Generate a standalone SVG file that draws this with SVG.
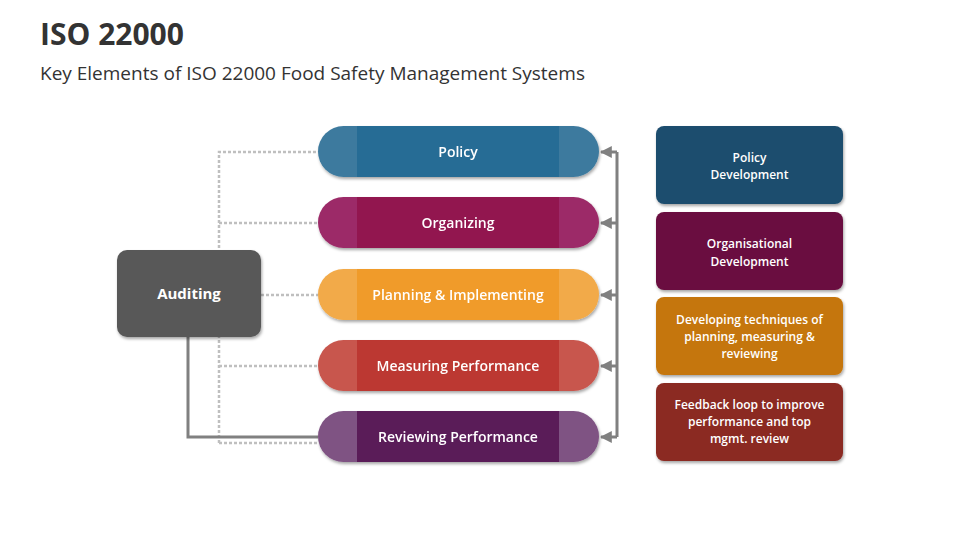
<svg xmlns="http://www.w3.org/2000/svg" width="960" height="540" viewBox="0 0 960 540">
<defs>
<style>
text{font-family:"Open Sans","Liberation Sans",sans-serif;fill:#fff;text-anchor:middle}
.t{font-weight:bold;font-size:30px;fill:#333;text-anchor:start;font-family:"Open Sans","Liberation Sans",sans-serif}
.s{font-size:19px;fill:#333;text-anchor:start}
.p{font-size:14px;font-weight:600}
.r{font-size:12px;font-weight:600}
.dot{stroke:#bfbfbf;stroke-width:2.5;stroke-dasharray:3 2;fill:none}
.sol{stroke:#808080;stroke-width:3;fill:none}
.cap{opacity:0.15;fill:#fff}
</style>
<filter id="sh" x="-10%" y="-10%" width="120%" height="130%"><feDropShadow dx="1" dy="2" stdDeviation="1.5" flood-opacity="0.35"/></filter>
<marker id="ar" viewBox="0 0 10 10" refX="9" refY="5" markerWidth="4" markerHeight="4" orient="auto"><path d="M0,0L10,5L0,10z" fill="#808080"/></marker>
<clipPath id="c1"><rect x="318" y="126" width="281" height="51" rx="25.5"/></clipPath>
</defs>
<text class="t" x="40" y="45">ISO 22000</text>
<text class="s" x="40" y="80">Key Elements of ISO 22000 Food Safety Management Systems</text>
<g id="connectors">
<path class="dot" d="M219 443V152H318M219 223H318M261 295H318M219 366H318M219 443H318"/>
<path class="sol" d="M188 337V437H318"/>
<path class="sol" d="M617 152V437"/>
<path class="sol" marker-end="url(#ar)" d="M617 152H601"/>
<path class="sol" marker-end="url(#ar)" d="M617 223H601"/>
<path class="sol" marker-end="url(#ar)" d="M617 295H601"/>
<path class="sol" marker-end="url(#ar)" d="M617 366H601"/>
<path class="sol" marker-end="url(#ar)" d="M617 437H601"/>
</g>
<g id="auditing"><rect x="117" y="250" width="144" height="87" rx="10" fill="#595959" filter="url(#sh)"/><text class="p" x="189" y="299" style="font-weight:bold;font-size:15px">Auditing</text></g>
<g id="policy" filter="url(#sh)"><rect x="318" y="126" width="281" height="51" rx="25.5" fill="#3D7A9E"/><rect x="357" y="126" width="202" height="51" fill="#286C95"/><text class="p" x="458" y="157">Policy</text></g>
<g id="organizing" filter="url(#sh)"><rect x="318" y="197" width="281" height="51" rx="25.5" fill="#9C2A67"/><rect x="357" y="197" width="202" height="51" fill="#921450"/><text class="p" x="458" y="228">Organizing</text></g>
<g id="planning" filter="url(#sh)"><rect x="318" y="269" width="281" height="51" rx="25.5" fill="#F2AA48"/><rect x="357" y="269" width="202" height="51" fill="#F09B2A"/><text class="p" x="458" y="300">Planning &amp; Implementing</text></g>
<g id="measuring" filter="url(#sh)"><rect x="318" y="340" width="281" height="51" rx="25.5" fill="#C8564E"/><rect x="357" y="340" width="202" height="51" fill="#BC3730"/><text class="p" x="458" y="371">Measuring Performance</text></g>
<g id="reviewing" filter="url(#sh)"><rect x="318" y="411" width="281" height="51" rx="25.5" fill="#7F5283"/><rect x="357" y="411" width="202" height="51" fill="#5A1A59"/><text class="p" x="458" y="442">Reviewing Performance</text></g>
<g id="policy-dev"><rect x="656" y="126" width="187" height="78" rx="8" fill="#1F4E6E" filter="url(#sh)"/><text class="r" x="749.5" y="162">Policy</text><text class="r" x="749.5" y="179">Development</text></g>
<g id="org-dev"><rect x="656" y="212" width="187" height="78" rx="8" fill="#6A0F3F" filter="url(#sh)"/><text class="r" x="749.5" y="248">Organisational</text><text class="r" x="749.5" y="266">Development</text></g>
<g id="techniques"><rect x="656" y="297" width="187" height="78" rx="8" fill="#C5760C" filter="url(#sh)"/><text class="r" x="749.5" y="324">Developing techniques of</text><text class="r" x="749.5" y="341">planning, measuring &amp;</text><text class="r" x="749.5" y="358">reviewing</text></g>
<g id="feedback"><rect x="656" y="383" width="187" height="78" rx="8" fill="#8B2A23" filter="url(#sh)"/><text class="r" x="749.5" y="409">Feedback loop to improve</text><text class="r" x="749.5" y="426">performance and top</text><text class="r" x="749.5" y="443">mgmt. review</text></g>
</svg>
